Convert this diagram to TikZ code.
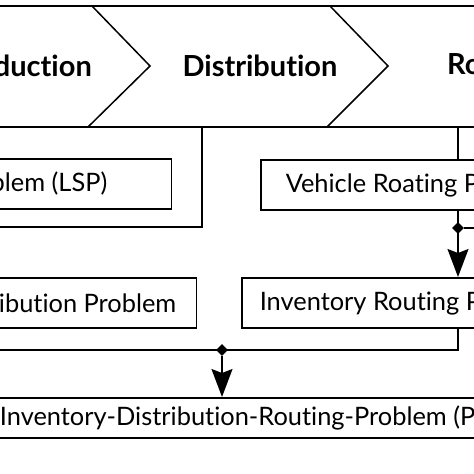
\documentclass[tikz,border=0pt]{standalone}
\usepackage{fontspec}
\setmainfont{Lato}[Ligatures=NoCommon]
\usetikzlibrary{arrows.meta, shapes.geometric, positioning}

\tikzset{
  box/.style={draw, line width=1.5pt, minimum height=50pt, inner ysep=0pt,
    font=\fontsize{25.4}{25.4}\selectfont},
  stage/.style={font=\fontsize{29}{29}\selectfont\bfseries, inner sep=0pt},
  link/.style={line width=1.5pt},
  flow/.style={link, -{Stealth[length=28pt, width=21pt, inset=4pt]}},
  joint/.style={diamond, fill, inner sep=0pt, minimum size=12pt},
}

\begin{document}
\begin{tikzpicture}[x=1pt, y=-1pt]
	\useasboundingbox (0,0) rectangle (474,474);
	\clip (0,0) rectangle (474,474);

	% stage bar with chevrons
	\coordinate (barL) at (202,127);
	\coordinate (barR) at (458,127);
	\draw[link] (-10,6) -- (484,6);
	\draw[link] (-10,127) -- (484,127);
	\draw[link] (92,6) -- (150,66) -- (88,127);
	\draw[link] (330,6) -- (388,66) -- (327,127);

	\node[stage, anchor=east] (prod) at (92,66) {Production};
	\node[stage] (dist) at (260,66) {Distribution};
	\node[stage, anchor=west] (rout) at (447,66) {Routing};

	% problem boxes
	\node[box, inner xsep=64pt, anchor=north east] (lsp) at (172,158) {Lot Sizing Problem (LSP)};
	\node[box, inner xsep=25pt, anchor=north west] (vrp) at (260,159) {Vehicle Roating Problem (VRP)};
	\node[box, inner xsep=20pt, anchor=north east] (pdp) at (197,277) {Production Distribution Problem};
	\node[box, inner xsep=18pt, anchor=north west] (irp) at (241,277) {Inventory Routing Problem (IRP)};
	\node[box, minimum height=40pt, inner xsep=20pt, anchor=north west, line width=1.8pt] (idrp) at (-21,397)
		{Inventory-Distribution-Routing-Problem (PIDRP)};

	% connectors
	\coordinate (lspcorner) at (202,227);
	\coordinate (lspend) at (-10,227);
	\draw[link] (barL) -- (lspcorner) -- (lspend);

	\draw[link] (barR) -- (barR |- vrp.north);
	\node[joint] (j1) at (458,228) {};
	\coordinate (j1end) at (484,228);
	\draw[link] (j1) -- (j1end);
	\draw[flow] (barR |- vrp.south) -- (barR |- irp.north);

	\coordinate (irpcorner) at (458,350);
	\coordinate (irpend) at (-10,350);
	\draw[link] (irpcorner |- irp.south) -- (irpcorner) -- (irpend);
	\node[joint] (j2) at (222,350) {};
	\draw[flow] (j2) -- (j2 |- idrp.north);

\end{tikzpicture}
\end{document}
